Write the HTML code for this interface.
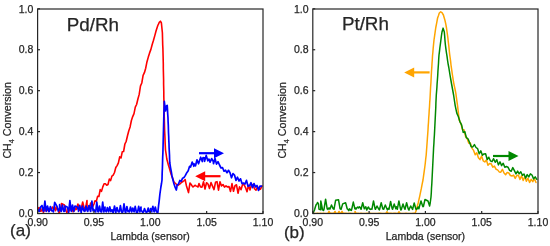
<!DOCTYPE html>
<html><head><meta charset="utf-8"><style>
html,body{margin:0;padding:0;background:#fff;}
svg{display:block;}
</style></head><body>
<svg width="550" height="246" viewBox="0 0 550 246">
<rect width="550" height="246" fill="#ffffff"/>
<defs>
<clipPath id="cl"><rect x="37.6" y="9" width="225.4" height="204.5"/></clipPath>
<clipPath id="cr"><rect x="312.8" y="9" width="225.2" height="204.5"/></clipPath>
</defs>
<g fill="none" stroke-linejoin="round" stroke-linecap="round" clip-path="url(#cl)">
<polyline points="38.0,209.1 38.9,207.6 39.8,208.2 40.7,211.3 41.6,210.8 42.5,207.7 43.4,212.5 44.3,208.0 45.2,208.1 45.4,210.8 47.0,210.8 47.0,207.0 48.6,210.3 48.8,211.1 49.7,210.1 50.6,209.7 51.5,209.5 52.4,207.0 53.3,208.1 54.2,209.1 55.1,207.1 55.4,210.8 57.0,207.5 58.6,210.3 58.7,212.3 59.6,212.3 59.8,210.8 61.4,209.9 61.4,203.5 64.4,205.0 66.0,210.3 66.8,212.4 67.7,211.4 68.6,208.7 69.4,210.8 71.0,206.5 72.6,210.3 73.1,211.7 74.0,211.0 74.9,207.7 75.8,209.7 76.7,207.8 76.3,209.2 77.9,204.0 79.5,208.6 79.8,210.5 80.7,207.8 81.1,209.2 82.7,202.0 84.3,208.6 84.3,207.4 85.2,210.6 85.4,209.2 87.0,200.5 87.0,209.1 88.6,208.6 88.8,206.1 89.1,209.2 90.7,203.0 92.3,208.6 92.4,207.4 94.0,204.0 95.0,200.7 96.3,201.4 97.6,196.4 98.9,196.5 100.2,189.6 101.5,191.4 102.8,186.9 104.1,183.8 105.4,183.7 106.7,185.2 108.0,184.5 109.3,179.1 110.6,180.6 111.9,176.1 113.2,175.1 114.5,172.5 115.8,167.5 117.1,165.6 118.4,162.8 119.7,156.9 121.0,158.0 122.3,151.7 123.6,151.5 124.9,144.0 126.2,141.3 127.5,135.7 128.8,130.7 130.1,126.9 131.4,120.5 132.7,116.6 134.0,113.7 135.3,107.1 136.6,104.5 137.9,99.0 139.2,94.4 140.5,85.9 141.8,83.0 143.1,75.4 144.4,72.7 145.7,68.2 147.0,61.7 148.3,57.1 149.6,52.9 150.9,49.4 152.2,44.5 153.5,40.3 154.8,35.6 156.1,30.8 157.8,25.5 158.6,23.9 159.3,22.3 160.4,21.2 161.4,23.0 161.9,28.0 162.4,33.0 162.5,36.9 162.6,40.7 162.7,44.6 162.9,48.4 163.0,52.3 163.1,56.1 163.2,60.0 163.3,64.0 163.3,68.0 163.4,72.0 163.5,76.0 163.6,80.0 163.6,84.0 163.7,88.0 163.8,92.0 163.8,96.0 163.9,100.0 164.0,103.8 164.1,107.5 164.2,111.2 164.2,115.0 164.3,118.8 164.4,122.5 164.5,126.2 164.6,130.0 164.8,134.0 165.0,138.0 165.1,142.0 165.3,146.0 165.5,150.0 166.2,154.5 166.8,159.0 167.6,162.0 168.4,165.0 169.4,168.3 170.3,171.5 171.3,174.8 172.3,177.4 173.2,179.9 174.2,182.5 175.1,183.2 176.1,184.0 177.0,184.8 177.9,185.5 178.9,184.6 180.0,183.8 181.0,182.9 182.0,182.2 183.0,181.5 184.1,180.6 185.2,179.6 185.8,182.8 186.5,186.0 187.5,189.3 188.5,192.6 189.2,187.8 190.0,183.0 191.0,184.3 192.0,185.7 193.0,187.0 194.0,186.2 195.0,185.3 196.0,185.9 197.0,186.4 198.0,187.0 199.0,183.5 200.5,187.0 202.0,187.1 203.5,181.7 205.0,189.0 206.5,182.7 208.0,184.0 209.5,188.4 211.0,182.6 212.5,186.1 214.0,189.6 215.5,182.3 217.0,181.6 218.5,190.1 220.0,181.7 221.5,185.9 223.0,184.5 224.5,187.1 226.0,185.9 227.5,187.0 229.0,186.5 230.5,191.4 232.0,183.6 233.5,191.3 235.0,185.7 236.5,184.8 238.0,193.2 239.5,186.9 241.0,189.7 242.5,184.8 244.0,184.5 245.5,187.6 247.0,191.8 248.5,185.3 250.0,189.9 251.5,185.0 253.0,184.6 254.5,188.7 256.0,190.2 257.5,186.7 259.0,189.4 260.5,189.1 262.0,186.0" stroke="#ff0000" stroke-width="1.6"/>
<polyline points="38.0,211.0 38.9,209.8 39.3,211.3 40.5,207.0 42.0,205.5 43.2,210.8 43.4,208.7 43.7,211.3 44.9,201.0 46.1,210.5 46.1,210.8 46.3,211.3 47.5,206.0 48.7,210.8 48.8,211.7 49.2,211.3 50.4,206.5 51.6,210.8 52.4,210.3 53.3,211.9 53.5,211.3 54.7,202.3 57.0,206.5 58.2,210.8 58.4,211.3 59.6,208.2 59.6,204.7 60.8,210.8 61.3,211.3 62.5,205.0 63.7,210.8 63.8,211.3 65.0,211.1 65.0,206.0 67.2,207.0 68.4,210.8 68.6,212.7 68.7,211.3 69.9,200.5 71.1,210.8 71.3,208.7 71.3,211.3 72.5,205.0 73.7,210.8 73.8,211.3 75.0,206.0 77.3,207.0 78.5,210.6 78.5,211.3 78.5,210.8 79.7,205.3 80.9,210.8 81.2,212.6 81.3,211.3 82.5,206.0 83.7,210.8 83.9,209.9 84.8,209.4 84.8,211.3 86.0,206.0 87.2,210.8 87.5,208.6 87.8,211.3 89.0,205.5 90.2,209.9 90.2,210.8 90.7,211.3 91.9,201.0 93.1,210.8 93.8,209.4 94.7,211.1 95.7,211.9 96.8,202.0 97.9,211.6 98.4,211.9 99.5,206.0 100.6,211.6 101.4,211.4 101.6,211.9 102.7,202.0 103.8,211.6 103.9,211.9 105.0,207.0 105.0,209.9 106.1,211.6 106.3,211.9 107.4,207.5 108.5,211.6 108.6,209.5 108.7,211.9 109.8,206.9 110.9,211.6 111.3,210.3 112.2,209.9 113.1,212.8 113.4,211.9 114.5,206.0 115.6,211.6 115.8,212.8 115.9,211.9 117.0,207.5 118.1,211.6 118.5,211.8 119.3,211.9 120.4,205.7 121.5,211.6 122.1,212.5 122.9,211.9 124.0,203.9 125.1,211.6 125.7,213.0 125.8,211.9 126.9,206.5 128.0,211.6 128.4,210.7 129.3,211.7 129.4,211.9 130.5,207.0 131.6,211.6 131.7,211.9 132.8,208.0 133.9,211.6 134.1,211.9 135.2,206.3 136.3,211.6 136.5,212.8 137.4,213.0 137.6,211.9 138.7,206.3 139.8,211.6 139.9,211.9 141.0,207.0 141.0,210.1 142.1,211.6 142.8,212.6 143.4,211.9 144.5,208.5 145.6,211.6 146.4,212.3 147.1,211.9 148.2,208.0 148.2,211.1 149.3,211.6 149.4,211.9 150.5,208.5 151.6,211.6 151.8,211.9 151.8,210.1 152.9,206.3 154.0,211.6 154.2,211.9 155.3,207.0 156.4,211.6 157.8,213.0 158.2,209.2 158.6,205.4 159.1,201.6 159.5,197.8 159.9,194.0 160.4,190.5 160.9,187.0 161.5,183.5 162.0,180.0 162.1,176.1 162.2,172.2 162.4,168.3 162.5,164.4 162.6,160.6 162.7,156.7 162.9,152.8 163.0,148.9 163.1,145.0 163.2,141.1 163.3,137.2 163.4,133.3 163.5,129.4 163.6,125.6 163.7,121.7 163.8,117.8 163.9,113.9 164.0,110.0 164.2,105.7 164.3,101.4 164.9,106.2 165.5,111.0 166.5,106.0 167.2,105.4 167.5,109.6 167.7,113.8 168.0,118.0 168.1,121.7 168.3,125.3 168.4,129.0 168.5,132.7 168.7,136.3 168.8,140.0 169.0,143.8 169.1,147.7 169.3,151.5 169.5,155.3 169.6,159.2 169.8,163.0 170.5,167.3 171.3,171.7 172.0,176.0 173.0,180.0 174.0,184.0 175.3,187.7 176.3,190.0 176.9,187.0 177.0,184.9 178.4,184.2 179.8,180.5 181.2,181.4 182.6,178.2 184.0,177.5 185.4,175.4 186.8,172.7 188.2,170.8 189.6,166.3 190.6,167.0 192.2,162.0 193.8,166.3 194.0,163.9 195.5,165.8 197.0,159.8 198.5,163.8 199.1,162.1 200.7,157.2 202.3,161.5 203.0,157.7 204.5,157.8 204.6,161.4 206.2,155.4 207.8,160.8 209.0,159.1 210.1,162.1 211.7,158.6 213.3,161.5 213.5,163.7 215.0,158.4 216.5,164.1 218.0,161.7 219.5,165.0 221.0,168.0 222.5,167.5 224.0,171.2 225.5,170.2 227.0,172.7 228.5,170.3 230.0,172.8 231.5,177.8 233.0,173.6 234.5,175.0 236.0,180.4 237.5,177.2 239.0,181.0 240.5,178.8 242.0,183.6 243.5,183.1 245.0,184.0 246.5,180.4 248.0,186.2 249.5,185.8 251.0,182.7 252.5,187.6 254.0,183.6 255.5,186.9 257.0,185.5 258.5,190.4 260.0,186.1 261.5,186.2" stroke="#0000ff" stroke-width="1.7"/>
</g>
<g fill="none" stroke-linejoin="round" stroke-linecap="round" clip-path="url(#cr)">
<polyline points="313.0,213.2 314.5,213.4 316.0,213.5 317.5,213.2 319.0,213.4 320.5,213.3 322.0,213.6 323.5,213.3 325.0,213.5 326.5,213.4 327.8,213.5 329.0,211.3 330.2,213.4 331.0,213.3 332.5,213.3 333.8,213.5 335.0,211.5 336.2,213.4 337.0,213.4 337.8,213.5 339.0,211.5 340.2,213.4 340.8,213.5 342.0,211.3 343.2,213.4 344.5,213.3 346.0,213.3 347.5,213.6 349.0,213.3 350.5,213.3 352.0,213.4 353.5,213.6 353.8,213.5 355.0,213.3 355.0,211.5 356.2,213.4 356.5,213.5 358.0,213.3 359.5,213.4 361.0,213.3 362.5,213.5 364.0,213.4 365.5,213.4 367.0,213.3 368.5,213.5 370.0,213.2 371.5,213.5 373.0,213.5 374.5,213.5 376.0,213.6 377.5,213.4 379.0,213.3 380.5,213.3 382.0,213.5 383.5,213.5 385.0,213.5 385.8,213.5 387.0,211.8 388.2,213.4 389.5,213.2 391.0,213.3 392.5,213.4 394.0,213.3 395.5,213.3 397.0,213.5 397.8,213.5 399.0,211.8 400.2,213.4 401.5,213.4 403.0,213.5 404.5,213.4 406.0,213.3 407.5,213.5 409.0,213.5 410.5,213.5 412.0,213.5 413.5,213.2 415.0,213.6 415.8,211.5 417.0,207.2 418.2,203.0 419.0,199.4 419.8,195.8 420.5,192.3 421.3,188.7 422.1,184.3 423.0,180.0 423.6,175.7 424.2,171.3 424.8,167.0 425.3,163.0 425.7,159.0 426.2,155.0 426.5,150.8 426.8,146.7 427.1,142.5 427.4,138.3 427.7,134.2 428.0,130.0 428.2,126.1 428.5,122.2 428.7,118.3 429.0,114.4 429.2,110.6 429.5,106.7 429.7,102.8 430.0,98.9 430.2,95.0 430.4,91.0 430.6,87.0 430.9,83.0 431.1,79.0 431.3,75.0 431.5,71.2 431.8,67.4 432.0,63.6 432.3,59.8 432.5,56.0 432.9,52.0 433.2,48.0 433.6,44.0 434.0,40.0 434.6,35.8 435.2,31.7 435.8,27.5 436.7,22.8 437.6,18.0 438.5,15.5 439.3,13.0 440.7,11.8 442.0,12.6 443.4,15.0 444.2,17.8 445.0,20.5 445.8,24.2 446.5,28.0 447.2,33.0 447.9,38.0 448.3,42.0 448.8,46.0 449.2,50.0 449.6,53.8 450.1,57.5 450.6,61.2 451.0,65.0 451.6,69.2 452.2,73.5 452.9,77.8 453.5,82.0 454.3,85.8 455.1,89.5 455.8,93.2 457.6,106.2 459.2,120.1 460.8,123.3 462.4,129.4 464.0,129.8 465.6,136.5 467.2,138.8 468.8,143.2 470.4,143.1 472.0,148.4 473.6,150.4 475.2,154.7 476.8,152.8 478.4,157.7 480.0,159.6 481.6,156.1 483.2,160.8 484.8,161.9 486.4,160.0 488.0,165.3 489.6,163.6 491.2,163.8 492.8,167.1 494.4,166.1 496.0,169.2 497.6,169.9 499.2,171.9 500.8,172.2 502.4,169.3 504.0,173.0 505.6,174.7 507.2,172.4 508.8,173.0 510.4,175.5 512.0,176.0 513.6,175.1 515.2,178.4 516.8,175.5 518.4,175.3 520.0,179.4 521.6,175.7 523.2,180.5 524.8,176.7 526.4,181.2 528.0,178.2 529.6,182.4 531.2,179.3 532.8,181.7 534.4,178.7 536.0,182.5" stroke="#ffa500" stroke-width="1.5"/>
<polyline points="313.0,213.0 313.8,211.5 314.5,210.0 315.2,207.5 316.0,205.0 316.8,203.8 317.5,202.5 318.5,204.0 319.0,209.3 319.2,209.3 320.8,209.7 320.8,200.9 322.4,208.8 322.6,209.9 323.5,210.5 324.0,209.3 325.6,199.2 327.2,208.8 328.0,209.4 328.9,207.9 329.8,208.3 329.9,209.3 331.5,205.0 333.1,208.8 333.4,208.4 334.0,209.3 335.6,200.3 338.5,199.7 340.1,208.8 340.6,209.0 341.1,209.3 342.7,203.9 345.6,202.7 347.2,208.8 347.8,209.2 348.7,210.6 349.6,208.8 350.5,210.0 351.4,210.4 351.7,209.3 353.3,202.1 354.9,208.8 355.0,207.6 355.9,209.2 356.8,207.9 357.7,207.0 358.6,207.9 359.5,206.8 360.4,208.0 361.1,209.3 362.7,202.7 364.3,208.8 364.9,207.7 365.8,206.7 366.7,210.1 367.6,208.1 368.5,207.1 369.4,208.8 370.3,209.4 371.2,208.9 371.9,209.3 373.5,200.9 375.1,208.8 375.4,209.3 377.0,206.0 378.6,208.8 379.3,209.9 379.6,209.3 381.2,202.7 382.8,208.8 382.9,209.1 383.7,209.3 385.3,205.0 386.9,208.8 387.4,209.9 388.3,208.4 389.0,209.3 390.6,201.5 392.2,208.8 392.6,209.3 394.2,204.0 395.8,208.8 396.4,206.8 397.3,209.2 397.3,209.3 398.9,200.9 400.5,208.8 400.9,210.0 401.4,209.3 403.0,204.0 404.6,208.8 405.0,209.3 406.6,202.7 408.2,208.8 409.0,210.1 409.1,209.3 410.7,206.0 412.3,208.8 412.6,209.4 412.6,209.3 414.2,203.0 415.8,208.8 416.2,209.5 417.1,208.8 418.0,207.0 418.9,208.8 419.4,206.5 421.0,201.0 422.6,206.0 423.1,206.7 423.4,206.5 425.0,199.5 428.0,201.0 429.6,206.0 430.2,203.0 430.6,200.0 431.0,197.0 431.3,192.7 431.5,188.3 431.8,184.0 432.0,180.0 432.2,176.0 432.4,172.0 432.6,168.0 432.8,164.0 433.0,160.0 433.2,156.0 433.4,152.0 433.6,147.8 433.9,143.5 434.1,139.2 434.4,135.0 434.6,131.0 434.8,127.0 435.0,123.0 435.2,119.0 435.4,115.0 435.6,111.0 435.8,107.0 435.9,103.0 436.1,99.0 436.3,95.0 436.6,91.2 436.9,87.5 437.1,83.8 437.4,80.0 437.7,75.8 437.9,71.7 438.2,67.5 438.5,63.3 438.7,59.2 439.0,55.0 439.5,51.2 439.9,47.5 440.4,43.8 440.9,40.0 441.4,36.0 442.0,32.0 443.1,28.1 444.3,32.0 444.7,36.3 445.0,40.7 445.4,45.0 445.9,48.8 446.4,52.5 447.0,56.2 447.5,60.0 448.1,63.8 448.8,67.5 449.4,71.2 450.0,75.0 450.7,79.0 451.4,83.0 453.6,95.0 455.2,105.6 456.8,113.1 458.4,116.7 460.0,121.8 461.6,124.8 463.2,132.4 464.8,131.6 466.4,137.7 468.0,138.8 469.6,142.5 471.2,146.7 472.8,146.9 474.4,144.6 476.0,147.5 477.6,148.6 479.2,153.8 480.8,150.8 482.4,155.2 484.0,153.9 485.6,153.7 487.2,159.5 488.8,157.2 490.4,160.8 492.0,161.6 493.6,158.7 495.2,162.3 496.8,159.7 498.4,164.9 500.0,161.8 501.6,165.6 503.2,163.3 504.8,167.3 506.4,166.5 508.0,167.2 509.6,170.3 511.2,171.3 512.8,167.6 514.4,170.6 516.0,173.9 517.6,171.1 519.2,173.8 520.8,171.8 522.4,175.3 524.0,174.0 525.6,178.1 527.2,174.6 528.8,176.9 530.4,173.8 532.0,175.0 533.6,178.9 535.2,176.9 536.8,179.3" stroke="#008800" stroke-width="1.5"/>
</g>
<line x1="199" y1="153.2" x2="214.5" y2="153.2" stroke="#0000ff" stroke-width="2.2" /><polygon points="214,148.2 224,153.2 214,158.2" fill="#0000ff" />
<line x1="220.5" y1="176.2" x2="204.7" y2="176.2" stroke="#ff0000" stroke-width="2.2" /><polygon points="205.2,171.2 195.2,176.2 205.2,181.2" fill="#ff0000" />
<line x1="429.6" y1="72.4" x2="413.7" y2="72.4" stroke="#ffa500" stroke-width="2.2" /><polygon points="414.2,67.4 404.2,72.4 414.2,77.4" fill="#ffa500" />
<line x1="493" y1="156" x2="509.0" y2="156" stroke="#008800" stroke-width="2.2" /><polygon points="508.5,151.0 518.5,156 508.5,161.0" fill="#008800" />
<g stroke="#262626" stroke-width="1.2" fill="none">
<rect x="37.6" y="9.0" width="225.4" height="204.5" fill="none" />
<line x1="37.60" y1="213.5" x2="37.60" y2="210.9" />
<line x1="93.95" y1="213.5" x2="93.95" y2="210.9" />
<line x1="150.30" y1="213.5" x2="150.30" y2="210.9" />
<line x1="206.65" y1="213.5" x2="206.65" y2="210.9" />
<line x1="263.00" y1="213.5" x2="263.00" y2="210.9" />
<line x1="37.6" y1="213.50" x2="40.0" y2="213.50" />
<line x1="37.6" y1="172.56" x2="40.0" y2="172.56" />
<line x1="37.6" y1="131.62" x2="40.0" y2="131.62" />
<line x1="37.6" y1="90.68" x2="40.0" y2="90.68" />
<line x1="37.6" y1="49.74" x2="40.0" y2="49.74" />
<line x1="37.6" y1="8.80" x2="40.0" y2="8.80" />
<rect x="312.8" y="9.0" width="225.2" height="204.5" fill="none" />
<line x1="312.80" y1="213.5" x2="312.80" y2="210.9" />
<line x1="369.10" y1="213.5" x2="369.10" y2="210.9" />
<line x1="425.40" y1="213.5" x2="425.40" y2="210.9" />
<line x1="481.70" y1="213.5" x2="481.70" y2="210.9" />
<line x1="538.00" y1="213.5" x2="538.00" y2="210.9" />
<line x1="312.8" y1="213.50" x2="315.2" y2="213.50" />
<line x1="312.8" y1="172.56" x2="315.2" y2="172.56" />
<line x1="312.8" y1="131.62" x2="315.2" y2="131.62" />
<line x1="312.8" y1="90.68" x2="315.2" y2="90.68" />
<line x1="312.8" y1="49.74" x2="315.2" y2="49.74" />
<line x1="312.8" y1="8.80" x2="315.2" y2="8.80" />
</g>
<g fill="#262626" stroke="#262626" stroke-width="0.25" font-family='"Liberation Sans", Arial, sans-serif'>
<text x="37.60" y="225.6" text-anchor="middle" font-size="10.5">0.90</text>
<text x="93.95" y="225.6" text-anchor="middle" font-size="10.5">0.95</text>
<text x="150.30" y="225.6" text-anchor="middle" font-size="10.5">1.00</text>
<text x="206.65" y="225.6" text-anchor="middle" font-size="10.5">1.05</text>
<text x="263.00" y="225.6" text-anchor="middle" font-size="10.5">1.10</text>
<text x="33.30" y="217.20" text-anchor="end" font-size="10.5">0.0</text>
<text x="33.30" y="176.26" text-anchor="end" font-size="10.5">0.2</text>
<text x="33.30" y="135.32" text-anchor="end" font-size="10.5">0.4</text>
<text x="33.30" y="94.38" text-anchor="end" font-size="10.5">0.6</text>
<text x="33.30" y="53.44" text-anchor="end" font-size="10.5">0.8</text>
<text x="33.30" y="12.50" text-anchor="end" font-size="10.5">1.0</text>
<text x="150.20" y="239.8" text-anchor="middle" font-size="10.5">Lambda (sensor)</text>
<text x="10.10" y="236.30" font-size="17">(a)</text>
<text x="66.70" y="30.7" font-size="18.8">Pd/Rh</text>
<text transform="translate(10.70,158.6) rotate(-90)" font-size="10.7">CH<tspan font-size="7.2" dy="3.3">4</tspan><tspan dy="-3.3"> Conversion</tspan></text>
<text x="312.80" y="225.6" text-anchor="middle" font-size="10.5">0.90</text>
<text x="369.10" y="225.6" text-anchor="middle" font-size="10.5">0.95</text>
<text x="425.40" y="225.6" text-anchor="middle" font-size="10.5">1.00</text>
<text x="481.70" y="225.6" text-anchor="middle" font-size="10.5">1.05</text>
<text x="538.00" y="225.6" text-anchor="middle" font-size="10.5">1.10</text>
<text x="308.50" y="217.20" text-anchor="end" font-size="10.5">0.0</text>
<text x="308.50" y="176.26" text-anchor="end" font-size="10.5">0.2</text>
<text x="308.50" y="135.32" text-anchor="end" font-size="10.5">0.4</text>
<text x="308.50" y="94.38" text-anchor="end" font-size="10.5">0.6</text>
<text x="308.50" y="53.44" text-anchor="end" font-size="10.5">0.8</text>
<text x="308.50" y="12.50" text-anchor="end" font-size="10.5">1.0</text>
<text x="425.40" y="239.8" text-anchor="middle" font-size="10.5">Lambda (sensor)</text>
<text x="283.90" y="237.90" font-size="17">(b)</text>
<text x="341.90" y="29.7" font-size="18.8">Pt/Rh</text>
<text transform="translate(285.90,158.6) rotate(-90)" font-size="10.7">CH<tspan font-size="7.2" dy="3.3">4</tspan><tspan dy="-3.3"> Conversion</tspan></text>
</g>
</svg>
</body></html>
